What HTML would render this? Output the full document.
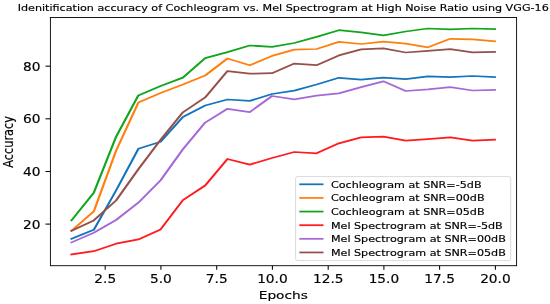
<!DOCTYPE html>
<html><head><meta charset="utf-8"><title>Accuracy chart</title>
<style>html,body{margin:0;padding:0;background:#fff}svg{display:block}text{font-family:"DejaVu Sans","Liberation Sans",sans-serif;fill:#000;stroke:#000;stroke-width:0.15px}</style></head><body>
<svg width="550" height="304" viewBox="0 0 550 304">
<rect x="0" y="0" width="550" height="304" fill="#fff"/>
<g fill="none" stroke-width="1.75" stroke-linejoin="round" stroke-linecap="square" transform="scale(1.26,1)">
<polyline stroke="#1274bd" points="56.75,238.9 74.43,229.8 92.11,190.5 109.79,148.8 127.48,141.8 145.16,117.1 162.84,105.5 180.52,99.5 198.21,100.9 215.89,94.0 233.57,90.7 251.25,84.5 268.94,77.8 286.62,79.6 304.30,77.6 321.98,79.1 339.67,76.3 357.35,77.1 375.03,76.0 392.71,77.0"/>
<polyline stroke="#ff7f0e" points="56.75,230.8 74.43,211.4 92.11,150.8 109.79,102.6 127.48,93.0 145.16,84.5 162.84,75.5 180.52,58.5 198.21,65.3 215.89,55.9 233.57,49.6 251.25,49.0 268.94,41.9 286.62,44.0 304.30,41.7 321.98,43.7 339.67,47.3 357.35,38.8 375.03,39.4 392.71,41.2"/>
<polyline stroke="#10a51d" points="56.75,220.4 74.43,192.8 92.11,136.8 109.79,95.4 127.48,86.0 145.16,77.6 162.84,58.2 180.52,52.1 198.21,45.5 215.89,46.8 233.57,43.0 251.25,36.8 268.94,30.2 286.62,32.3 304.30,35.3 321.98,31.5 339.67,28.5 357.35,29.3 375.03,28.5 392.71,29.0"/>
<polyline stroke="#ff1a1e" points="56.75,254.4 74.43,251.2 92.11,243.7 109.79,239.4 127.48,229.4 145.16,200.1 162.84,185.5 180.52,159.0 198.21,164.6 215.89,158.0 233.57,152.0 251.25,153.3 268.94,143.3 286.62,137.4 304.30,136.7 321.98,140.6 339.67,139.1 357.35,137.3 375.03,140.7 392.71,139.7"/>
<polyline stroke="#a569d7" points="56.75,242.4 74.43,232.7 92.11,220.0 109.79,202.7 127.48,180.2 145.16,149.3 162.84,122.6 180.52,108.8 198.21,112.1 215.89,96.0 233.57,99.3 251.25,95.6 268.94,93.4 286.62,87.2 304.30,81.3 321.98,91.0 339.67,89.3 357.35,87.1 375.03,90.5 392.71,89.8"/>
<polyline stroke="#96504a" points="56.75,230.8 74.43,220.4 92.11,200.5 109.79,169.2 127.48,139.8 145.16,112.3 162.84,97.4 180.52,71.1 198.21,73.7 215.89,73.2 233.57,63.6 251.25,65.2 268.94,55.4 286.62,49.3 304.30,48.3 321.98,52.5 339.67,50.8 357.35,49.2 375.03,52.4 392.71,51.9"/>
</g>
<rect x="50.4" y="17.5" width="466.2" height="248.2" fill="none" stroke="#000" stroke-width="0.9"/>
<g stroke="#000" stroke-width="1.05">
<line x1="105.2" y1="265.7" x2="105.2" y2="269.7"/>
<line x1="160.9" y1="265.7" x2="160.9" y2="269.7"/>
<line x1="216.7" y1="265.7" x2="216.7" y2="269.7"/>
<line x1="272.4" y1="265.7" x2="272.4" y2="269.7"/>
<line x1="328.2" y1="265.7" x2="328.2" y2="269.7"/>
<line x1="383.9" y1="265.7" x2="383.9" y2="269.7"/>
<line x1="439.6" y1="265.7" x2="439.6" y2="269.7"/>
<line x1="495.4" y1="265.7" x2="495.4" y2="269.7"/>
<line x1="45.5" y1="224.1" x2="50.4" y2="224.1"/>
<line x1="45.5" y1="171.5" x2="50.4" y2="171.5"/>
<line x1="45.5" y1="118.8" x2="50.4" y2="118.8"/>
<line x1="45.5" y1="66.15" x2="50.4" y2="66.15"/>
</g>
<text transform="translate(105.2,282.55) scale(1.254,1.06)" font-size="10.95" text-anchor="middle">2.5</text>
<text transform="translate(160.9,282.55) scale(1.254,1.06)" font-size="10.95" text-anchor="middle">5.0</text>
<text transform="translate(216.7,282.55) scale(1.254,1.06)" font-size="10.95" text-anchor="middle">7.5</text>
<text transform="translate(272.4,282.55) scale(1.254,1.06)" font-size="10.95" text-anchor="middle">10.0</text>
<text transform="translate(328.2,282.55) scale(1.254,1.06)" font-size="10.95" text-anchor="middle">12.5</text>
<text transform="translate(383.9,282.55) scale(1.254,1.06)" font-size="10.95" text-anchor="middle">15.0</text>
<text transform="translate(439.6,282.55) scale(1.254,1.06)" font-size="10.95" text-anchor="middle">17.5</text>
<text transform="translate(495.4,282.55) scale(1.254,1.06)" font-size="10.95" text-anchor="middle">20.0</text>
<text transform="translate(40.4,228.65) scale(1.254,1.07)" font-size="10.95" text-anchor="end">20</text>
<text transform="translate(40.4,176.05) scale(1.254,1.07)" font-size="10.95" text-anchor="end">40</text>
<text transform="translate(40.4,123.35) scale(1.254,1.07)" font-size="10.95" text-anchor="end">60</text>
<text transform="translate(40.4,70.70) scale(1.254,1.07)" font-size="10.95" text-anchor="end">80</text>
<text transform="translate(283.3,298.5) scale(1.254,1)" font-size="10.95" text-anchor="middle">Epochs</text>
<text transform="translate(13.3,141.9) scale(1.254,1.035) rotate(-90)" font-size="10.95" text-anchor="middle">Accuracy</text>
<text transform="translate(283.2,10.65) scale(1.262,1)" font-size="8.85" text-anchor="middle" stroke-width="0.08">Idenitification accuracy of Cochleogram vs. Mel Spectrogram at High Noise Ratio using VGG-16</text>
<rect x="295.6" y="176.6" width="215.1" height="84.0" rx="2.2" ry="1.9" fill="#fff" fill-opacity="0.8" stroke="#ccc" stroke-opacity="0.8" stroke-width="0.9"/>
<line x1="300.2" y1="184.30" x2="322.6" y2="184.30" stroke="#1274bd" stroke-width="1.75" stroke-linecap="square"/>
<text transform="translate(330.9,187.80) scale(1.262,1)" font-size="8.85">Cochleogram at SNR=-5dB</text>
<line x1="300.2" y1="197.93" x2="322.6" y2="197.93" stroke="#ff7f0e" stroke-width="1.75" stroke-linecap="square"/>
<text transform="translate(330.9,201.43) scale(1.262,1)" font-size="8.85">Cochleogram at SNR=00dB</text>
<line x1="300.2" y1="211.56" x2="322.6" y2="211.56" stroke="#10a51d" stroke-width="1.75" stroke-linecap="square"/>
<text transform="translate(330.9,215.06) scale(1.262,1)" font-size="8.85">Cochleogram at SNR=05dB</text>
<line x1="300.2" y1="225.19" x2="322.6" y2="225.19" stroke="#ff1a1e" stroke-width="1.75" stroke-linecap="square"/>
<text transform="translate(330.9,228.69) scale(1.262,1)" font-size="8.85">Mel Spectrogram at SNR=-5dB</text>
<line x1="300.2" y1="238.82" x2="322.6" y2="238.82" stroke="#a569d7" stroke-width="1.75" stroke-linecap="square"/>
<text transform="translate(330.9,242.32) scale(1.262,1)" font-size="8.85">Mel Spectrogram at SNR=00dB</text>
<line x1="300.2" y1="252.45" x2="322.6" y2="252.45" stroke="#96504a" stroke-width="1.75" stroke-linecap="square"/>
<text transform="translate(330.9,255.95) scale(1.262,1)" font-size="8.85">Mel Spectrogram at SNR=05dB</text>
</svg></body></html>
